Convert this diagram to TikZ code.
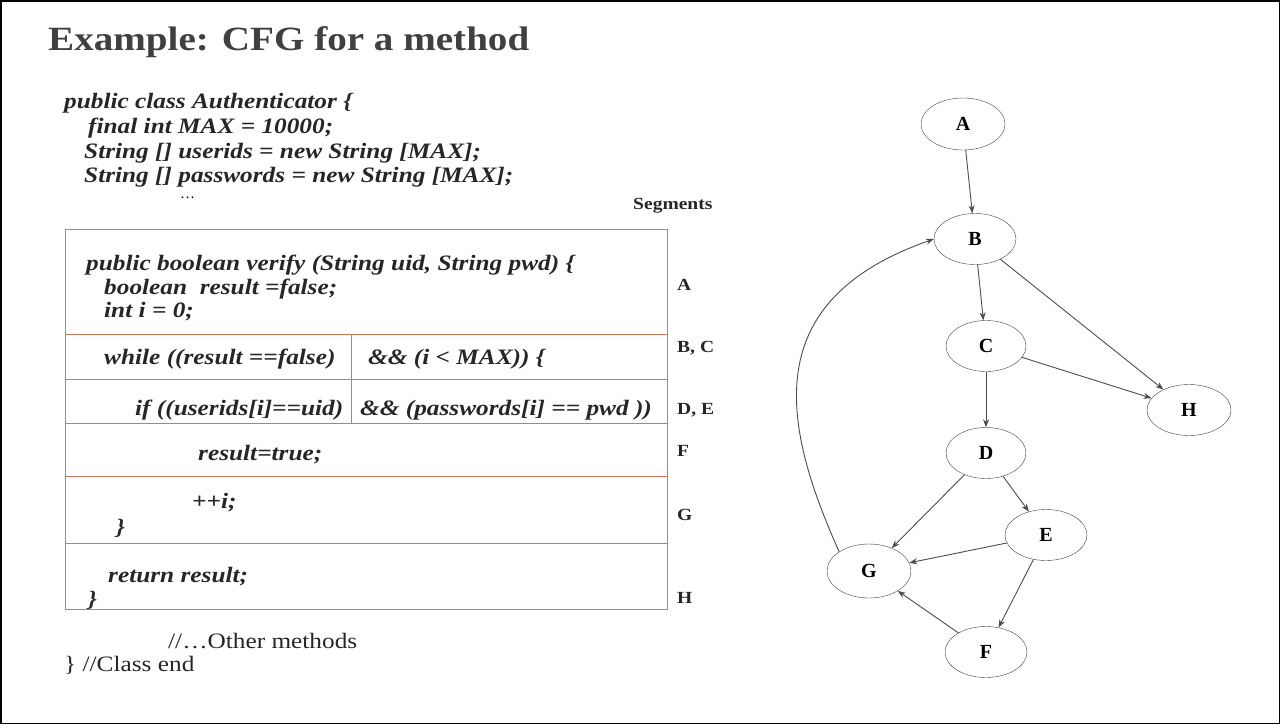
\documentclass[tikz,border=0pt]{standalone}
\usepackage{fontspec}
\setmainfont{Liberation Serif}
\newfontfamily\widefont[FakeStretch=1.15]{Liberation Serif}
\usetikzlibrary{shapes.geometric,arrows.meta}
\definecolor{tabline}{RGB}{205,120,95}
\begin{document}
\begin{tikzpicture}[x=1pt,y=-1pt,
 code/.style={anchor=west,inner sep=0,font=\widefont\fontsize{22}{22}\selectfont\bfseries\itshape,text=black!85},
 seg/.style={anchor=west,inner sep=0,font=\widefont\fontsize{17}{17}\selectfont\bfseries,text=black!85},
 vx/.style={draw=black!75,ellipse,minimum width=82,minimum height=51,inner sep=0,font=\fontsize{20}{20}\selectfont\bfseries},
 ed/.style={-{Stealth[length=8pt,width=6pt]},draw=black!70,line width=0.9pt}]
\useasboundingbox (0,0) rectangle (1280,724);
\draw[line width=1.5pt] (0.75,0.75) rectangle (1279.25,723.25);
\node[anchor=west,inner sep=0,font=\widefont\fontsize{34}{34}\selectfont\bfseries,text=black!75] (title) at (48,42) {Example: CFG for a method};
\node[code] (c1) at (64,103) {public class Authenticator \{};
\node[code] (c2) at (88,128) {final int MAX = 10000;};
\node[code] (c3) at (84,153) {String [] userids = new String [MAX];};
\node[code] (c4) at (84,177) {String [] passwords = new String [MAX];};
\node[anchor=west,inner sep=0,font=\fontsize{15}{15}\selectfont] (dots) at (180,198) {\dots};
\node[seg] (segs) at (633,206) {Segments};
\draw[draw=tabline,line width=1pt] (65,229) rectangle (667,609);
\foreach \y in {334,379,423,476,543} \draw[draw=tabline,line width=1pt] (65,\y) -- (667,\y);
\draw[draw=tabline,line width=1pt] (351,334) -- (351,423);
\node[code] (t1) at (86,265) {public boolean verify (String uid, String pwd) \{};
\node[code] (t2) at (104,289) {boolean\ \ result =false;};
\node[code] (t3) at (104,312) {int i = 0;};
\node[code] (t4) at (104,359) {while ((result ==false)};
\node[code] (t5) at (368,359) {\&\& (i < MAX)) \{};
\node[code] (t6) at (135,410) {if ((userids[i]==uid)};
\node[code] (t7) at (360,410) {\&\& (passwords[i] == pwd ))};
\node[code] (t8) at (198,455) {result=true;};
\node[code] (t9) at (192,503) {++i;};
\node[code] (t10) at (116,528) {\}};
\node[code] (t11) at (108,577) {return result;};
\node[code] (t12) at (88,600) {\}};
\node[seg] (sA) at (677,285) {A};
\node[seg] (sB) at (677,348) {B, C};
\node[seg] (sD) at (677,410) {D, E};
\node[seg] (sF) at (677,451) {F};
\node[seg] (sG) at (677,515) {G};
\node[seg] (sH) at (677,598) {H};
\node[anchor=west,inner sep=0,font=\widefont\fontsize{22}{22}\selectfont,text=black!85] (o1) at (168,641) {//\dots Other methods};
\node[anchor=west,inner sep=0,font=\widefont\fontsize{22}{22}\selectfont,text=black!85] (o2) at (64,665) {\} //Class end};
\node[vx,minimum width=84,minimum height=52] (A) at (963,124) {A};
\node[vx] (B) at (975,239) {B};
\node[vx,minimum width=80] (C) at (986,346) {C};
\node[vx,minimum width=84] (H) at (1189,410) {H};
\node[vx,minimum width=80] (D) at (986,453) {D};
\node[vx] (E) at (1046,535) {E};
\node[vx,minimum width=84,minimum height=54] (G) at (869,571) {G};
\node[vx] (F) at (986,652) {F};
\draw[ed] (A) -- (B);
\draw[ed] (B) -- (C);
\draw[ed] (B) -- (H);
\draw[ed] (C) -- (H);
\draw[ed] (C) -- (D);
\draw[ed] (D) -- (G);
\draw[ed] (D) -- (E);
\draw[ed] (E) -- (G);
\draw[ed] (E) -- (F);
\draw[ed] (F) -- (G);
\draw[ed] (G.north west) .. controls (780,420) and (760,300) .. (B.west);
\end{tikzpicture}
\end{document}
